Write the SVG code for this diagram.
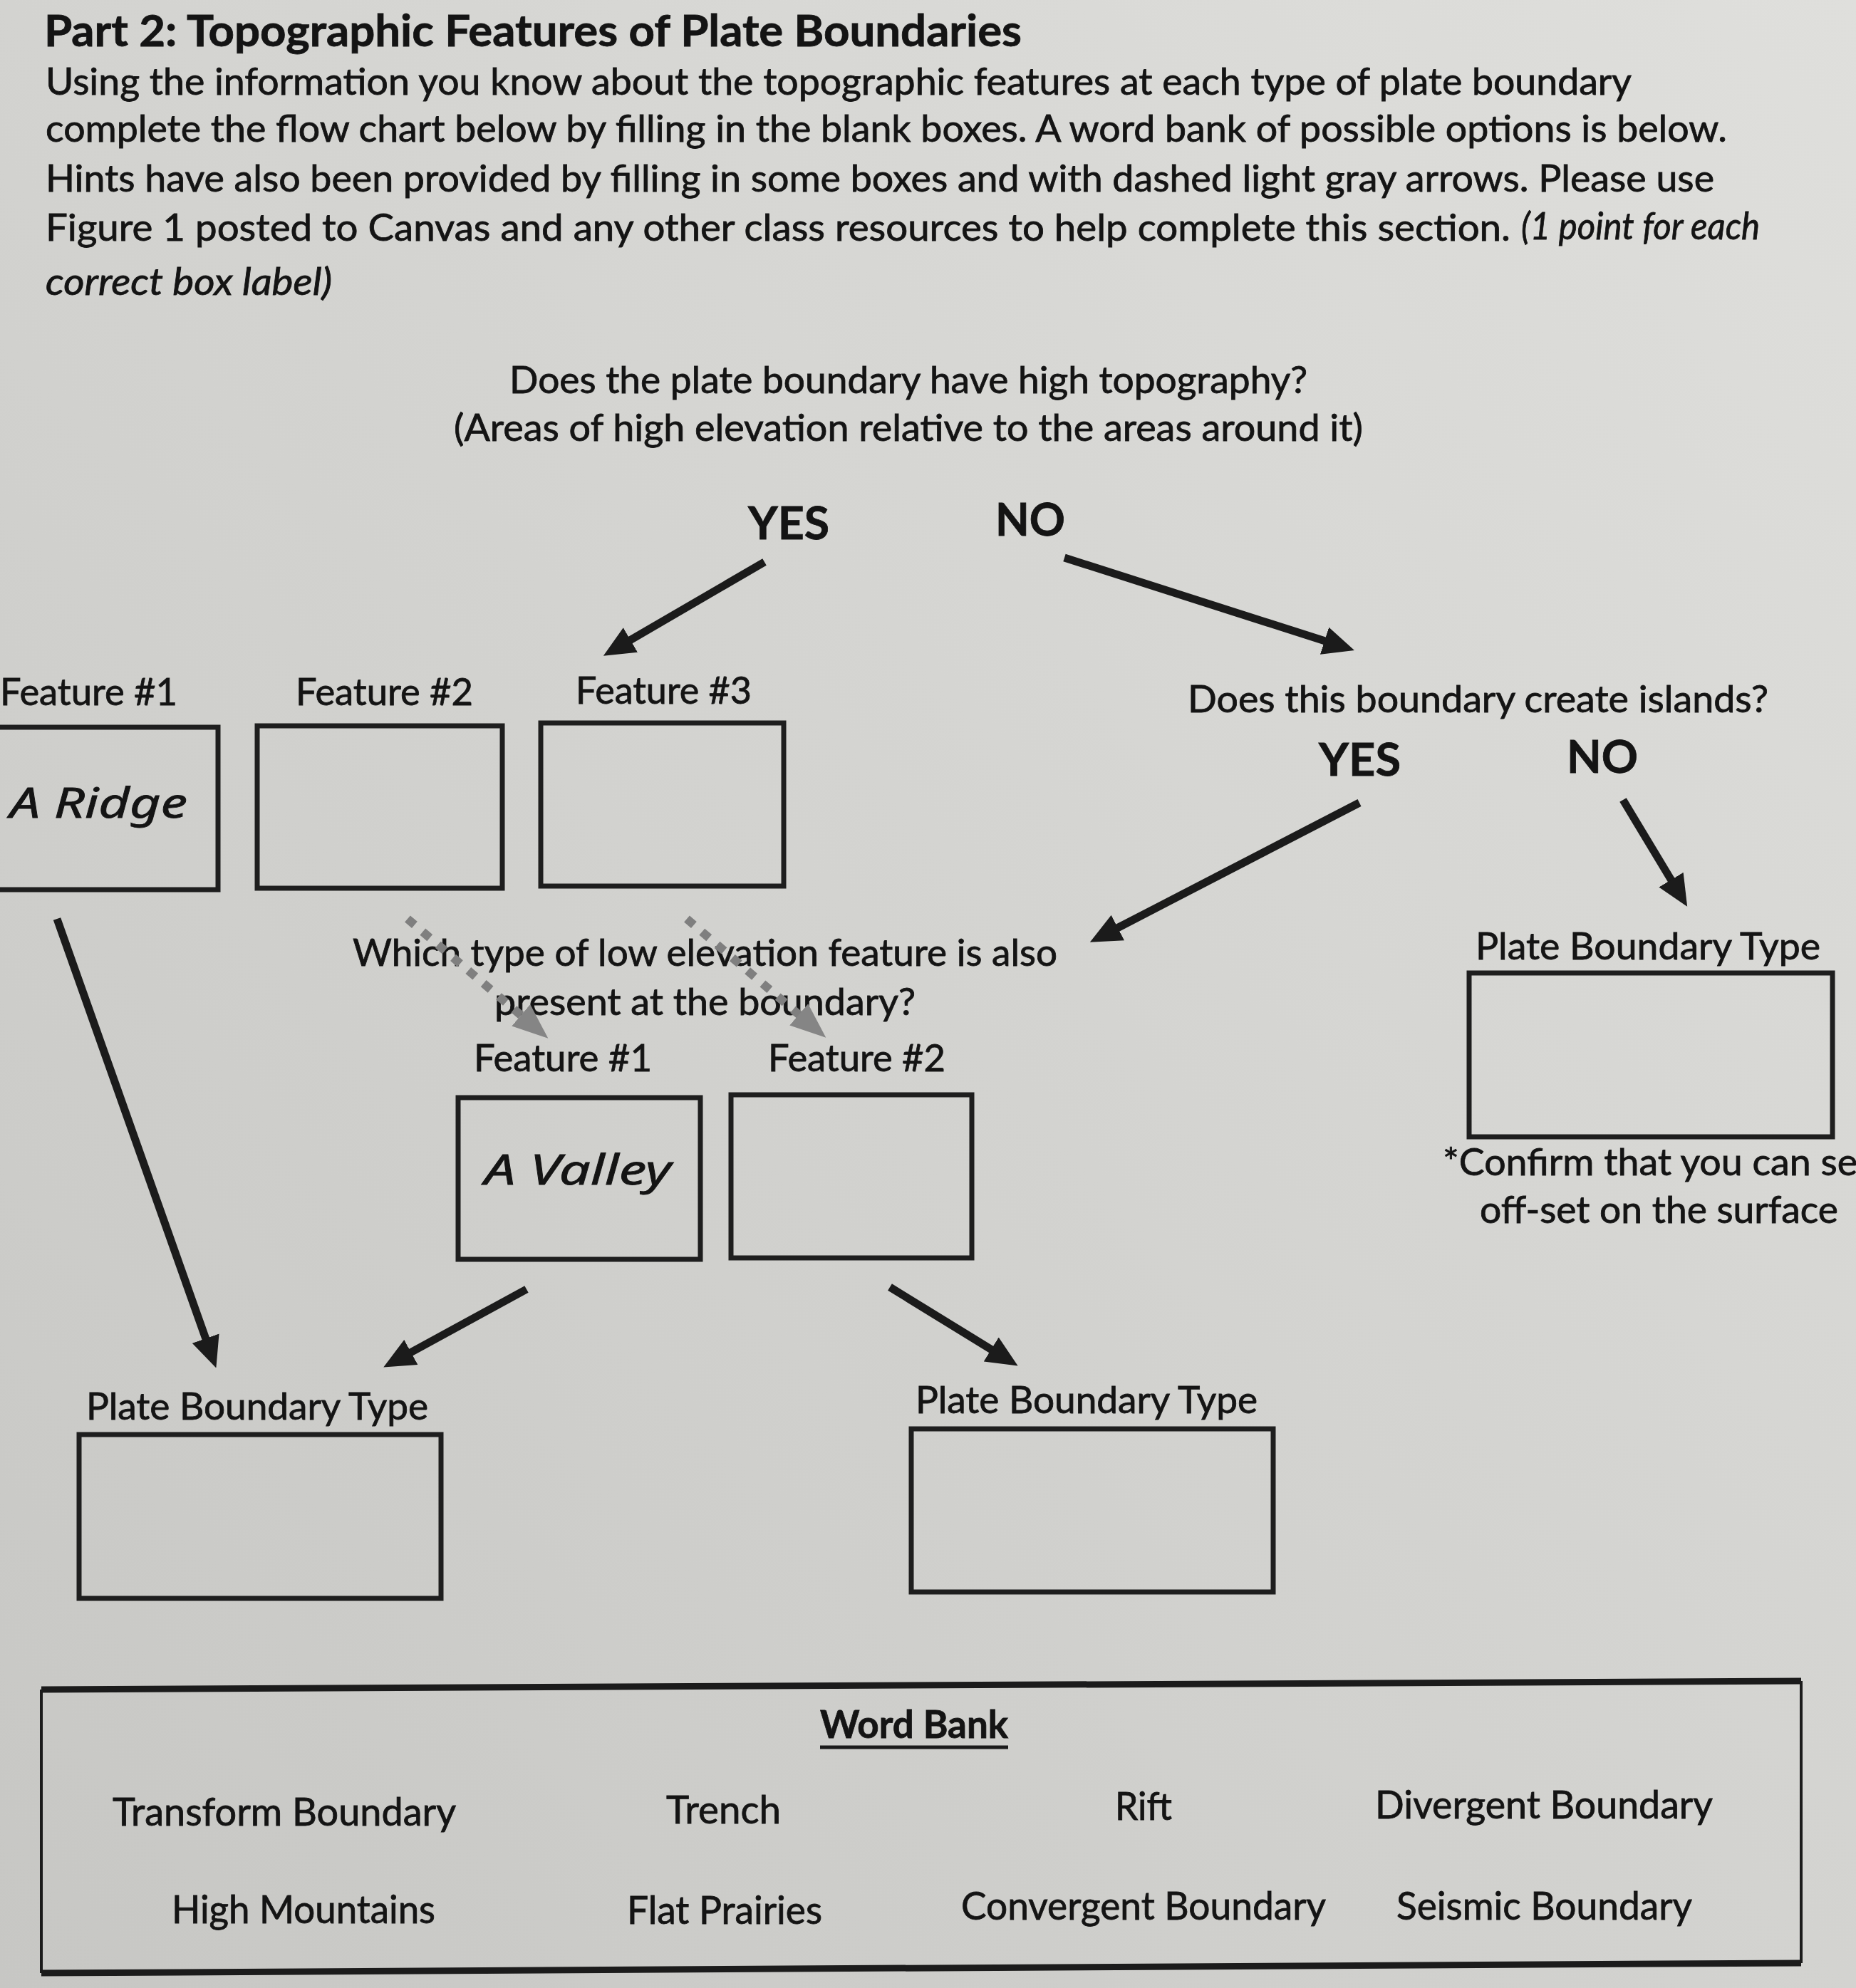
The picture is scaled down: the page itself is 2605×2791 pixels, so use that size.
<svg xmlns="http://www.w3.org/2000/svg" width="2605" height="2791" viewBox="0 0 2605 2791">
<defs>
<linearGradient id="paper" x1="1" y1="0" x2="0" y2="1">
<stop offset="0" stop-color="#dfdfdc"/>
<stop offset="0.5" stop-color="#d3d3d0"/>
<stop offset="1" stop-color="#c7c7c4"/>
</linearGradient>
<marker id="ah" markerUnits="userSpaceOnUse" viewBox="0 0 44 40" markerWidth="44" markerHeight="40" refX="1" refY="20" orient="auto">
<path d="M0,0 L44,20 L0,40 z" fill="#1b1b1b"/>
</marker>
<marker id="ahg" markerUnits="userSpaceOnUse" viewBox="0 0 50 40" markerWidth="50" markerHeight="40" refX="1" refY="20" orient="auto">
<path d="M0,0 L50,20 L0,40 z" fill="#858585"/>
</marker>
</defs>
<style>
text{font-family:Lato,"Liberation Sans",sans-serif;fill:#141414;font-size:52px;stroke:#141414;stroke-width:0.8px}
.title{font-size:62px;font-weight:bold}
.it{font-style:italic}
.b{font-weight:bold;font-size:64px}
.hand{font-family:"Noto Sans","DejaVu Sans",sans-serif;font-style:italic;font-size:58px}
.box{fill:none;stroke:#1e1e1e;stroke-width:7}
.arr{stroke:#1b1b1b;stroke-width:11;fill:none;marker-end:url(#ah)}
.dot{stroke:#7f7f7f;stroke-width:12;stroke-dasharray:13 15;fill:none;marker-end:url(#ahg)}
.wb{font-size:54px}
</style>
<rect x="0" y="0" width="2605" height="2791" fill="url(#paper)"/>

<g id="header">
<text class="title" x="62" y="65" textLength="1372" lengthAdjust="spacingAndGlyphs">Part 2: Topographic Features of Plate Boundaries</text>
<text x="64" y="133" textLength="2226" lengthAdjust="spacingAndGlyphs">Using the information you know about the topographic features at each type of plate boundary</text>
<text x="64" y="199" textLength="2360" lengthAdjust="spacingAndGlyphs">complete the flow chart below by filling in the blank boxes. A word bank of possible options is below.</text>
<text x="64" y="269" textLength="2342" lengthAdjust="spacingAndGlyphs">Hints have also been provided by filling in some boxes and with dashed light gray arrows. Please use</text>
<text x="64" y="338" textLength="2056" lengthAdjust="spacingAndGlyphs">Figure 1 posted to Canvas and any other class resources to help complete this section.</text>
<text class="it" x="2135" y="336" textLength="335" lengthAdjust="spacingAndGlyphs">(1 point for each</text>
<text class="it" x="64" y="414" textLength="402" lengthAdjust="spacingAndGlyphs">correct box label)</text>
</g>

<g id="q1">
<text x="715" y="552" textLength="1120" lengthAdjust="spacingAndGlyphs">Does the plate boundary have high topography?</text>
<text x="637" y="619" textLength="1276" lengthAdjust="spacingAndGlyphs">(Areas of high elevation relative to the areas around it)</text>
<text class="b" x="1050" y="757" textLength="114" lengthAdjust="spacingAndGlyphs">YES</text>
<text class="b" x="1397" y="752" textLength="98" lengthAdjust="spacingAndGlyphs">NO</text>
</g>

<g id="high-feature-1">
<text x="0" y="990" textLength="249" lengthAdjust="spacingAndGlyphs">Feature #1</text>
<rect class="box" x="-10" y="1021" width="316" height="228"/>
<text class="hand" x="14" y="1148" textLength="249" lengthAdjust="spacingAndGlyphs">A Ridge</text>
</g>
<g id="high-feature-2">
<text x="415" y="990" textLength="249" lengthAdjust="spacingAndGlyphs">Feature #2</text>
<rect class="box" x="361" y="1019" width="344" height="228"/>
</g>
<g id="high-feature-3">
<text x="808" y="988" textLength="247" lengthAdjust="spacingAndGlyphs">Feature #3</text>
<rect class="box" x="759" y="1015" width="341" height="229"/>
</g>

<g id="q2">
<text x="1667" y="1000" textLength="815" lengthAdjust="spacingAndGlyphs">Does this boundary create islands?</text>
<text class="b" x="1851" y="1089" textLength="115" lengthAdjust="spacingAndGlyphs">YES</text>
<text class="b" x="2199" y="1085" textLength="100" lengthAdjust="spacingAndGlyphs">NO</text>
</g>

<g id="type-right">
<text x="2071" y="1347" textLength="484" lengthAdjust="spacingAndGlyphs">Plate Boundary Type</text>
<rect class="box" x="2062" y="1366" width="510" height="230"/>
<text x="2025" y="1650" textLength="582" lengthAdjust="spacingAndGlyphs">*Confirm that you can se</text>
<text x="2077" y="1717" textLength="503" lengthAdjust="spacingAndGlyphs">off-set on the surface</text>
</g>

<g id="q3">
<text x="495" y="1356" textLength="989" lengthAdjust="spacingAndGlyphs">Which type of low elevation feature is also</text>
<text x="694" y="1425" textLength="591" lengthAdjust="spacingAndGlyphs">present at the boundary?</text>
</g>

<g id="low-feature-1">
<text x="665" y="1504" textLength="250" lengthAdjust="spacingAndGlyphs">Feature #1</text>
<rect class="box" x="643" y="1541" width="340" height="227"/>
<text class="hand" x="680" y="1663" textLength="262" lengthAdjust="spacingAndGlyphs">A Valley</text>
</g>
<g id="low-feature-2">
<text x="1078" y="1504" textLength="249" lengthAdjust="spacingAndGlyphs">Feature #2</text>
<rect class="box" x="1026" y="1537" width="338" height="229"/>
</g>

<g id="type-left">
<text x="121" y="1993" textLength="480" lengthAdjust="spacingAndGlyphs">Plate Boundary Type</text>
<rect class="box" x="111" y="2014" width="508" height="230"/>
</g>
<g id="type-middle">
<text x="1285" y="1984" textLength="480" lengthAdjust="spacingAndGlyphs">Plate Boundary Type</text>
<rect class="box" x="1279" y="2006" width="508" height="229"/>
</g>

<g id="connectors">
<line class="arr" x1="1073" y1="789" x2="884" y2="899"/>
<line class="arr" x1="1494" y1="783" x2="1860" y2="900"/>
<line class="arr" x1="1908" y1="1127" x2="1568" y2="1303"/>
<line class="arr" x1="2278" y1="1123" x2="2346" y2="1236"/>
<line class="arr" x1="80" y1="1290" x2="289" y2="1880"/>
<line class="arr" x1="739" y1="1810" x2="576" y2="1899"/>
<line class="arr" x1="1249" y1="1807" x2="1392" y2="1895"/>
<line class="dot" x1="572" y1="1290" x2="732" y2="1426"/>
<line class="dot" x1="964" y1="1290" x2="1122" y2="1425"/>
</g>

<g id="word-bank">
<path d="M58,2372 L2528,2360" stroke="#1b1b1b" stroke-width="9" fill="none"/>
<path d="M58,2770 L2528,2756" stroke="#1b1b1b" stroke-width="9" fill="none"/>
<path d="M58,2372 L58,2770 M2528,2360 L2528,2756" stroke="#1b1b1b" stroke-width="4" fill="none"/>
<text class="b" x="1151" y="2440" style="font-size:54px" textLength="264" lengthAdjust="spacingAndGlyphs">Word Bank</text>
<line x1="1151" y1="2453" x2="1415" y2="2453" stroke="#1b1b1b" stroke-width="5"/>
<text class="wb" x="158" y="2563" textLength="482" lengthAdjust="spacingAndGlyphs">Transform Boundary</text>
<text class="wb" x="935" y="2560" textLength="161" lengthAdjust="spacingAndGlyphs">Trench</text>
<text class="wb" x="1565" y="2555" textLength="80" lengthAdjust="spacingAndGlyphs">Rift</text>
<text class="wb" x="1930" y="2553" textLength="474" lengthAdjust="spacingAndGlyphs">Divergent Boundary</text>
<text class="wb" x="241" y="2700" textLength="370" lengthAdjust="spacingAndGlyphs">High Mountains</text>
<text class="wb" x="880" y="2701" textLength="274" lengthAdjust="spacingAndGlyphs">Flat Prairies</text>
<text class="wb" x="1349" y="2695" textLength="512" lengthAdjust="spacingAndGlyphs">Convergent Boundary</text>
<text class="wb" x="1960" y="2695" textLength="415" lengthAdjust="spacingAndGlyphs">Seismic Boundary</text>
</g>
</svg>
